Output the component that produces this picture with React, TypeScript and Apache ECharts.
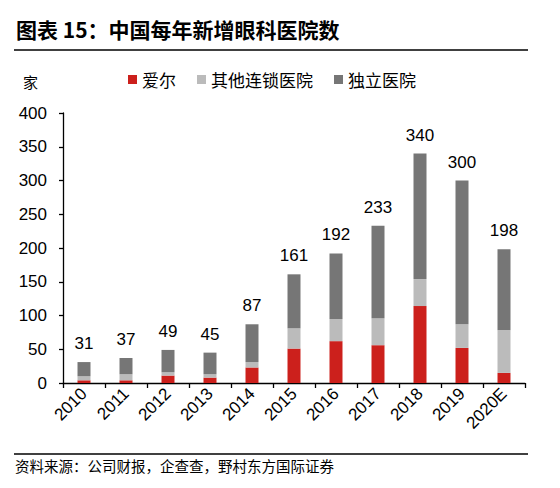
import React, { useEffect, useRef } from "react";
import * as echarts from "echarts";

const categories = ["2010", "2011", "2012", "2013", "2014", "2015", "2016", "2017", "2018", "2019", "2020E"];
const aier = [4, 4, 11, 8, 23, 51, 62, 56, 114, 52, 15];
const otherChain = [6, 9, 5, 5, 8, 30, 33, 40, 40, 35, 63];
const independent = [21, 24, 33, 32, 56, 80, 97, 137, 186, 213, 120];
const totals = [31, 37, 49, 45, 87, 161, 192, 233, 340, 300, 198];
const seriesNames = ["爱尔", "其他连锁医院", "独立医院"];

const LATIN = "'Liberation Sans', Arial, sans-serif";
const CJK = "'Noto Sans CJK SC', sans-serif";

export default function App() {
  const ref = useRef<HTMLDivElement>(null);
  useEffect(() => {
    if (!ref.current) return;
    const chart = echarts.init(ref.current, null, { renderer: "svg" });
    const option: any = {
      animation: false,
      backgroundColor: "#ffffff",
      grid: { left: 63, right: 35, top: 113, bottom: 105, containLabel: false },
      legend: {
        left: 128,
        top: 71,
        padding: 0,
        itemWidth: 9,
        itemHeight: 9,
        itemGap: 21,
        icon: "rect",
        data: seriesNames,
        textStyle: { fontSize: 17, color: "#000", fontFamily: CJK },
      },
      xAxis: {
        type: "category",
        data: categories,
        axisLine: { lineStyle: { color: "#000", width: 1.3 } },
        axisTick: { show: true, length: 5, lineStyle: { color: "#000", width: 1.3 } },
        axisLabel: { rotate: 45, fontSize: 17, color: "#000", fontFamily: LATIN, margin: 8, interval: 0 },
      },
      yAxis: {
        type: "value",
        min: 0,
        max: 400,
        interval: 50,
        splitLine: { show: false },
        axisLine: { show: true, lineStyle: { color: "#000", width: 1.3 } },
        axisTick: { show: true, length: 4, lineStyle: { color: "#000", width: 1.3 } },
        axisLabel: { fontSize: 17, color: "#000", fontFamily: LATIN, margin: 16 },
      },
      graphic: [
        {
          type: "text",
          left: 16,
          top: 18,
          style: {
            text: "图表 15：中国每年新增眼科医院数",
            fontSize: 21,
            fontWeight: "bold",
            fill: "#000",
            fontFamily: CJK,
          },
        },
        {
          type: "line",
          shape: { x1: 14, y1: 50, x2: 528, y2: 50 },
          style: { stroke: "#000", lineWidth: 1.5 },
        },
        {
          type: "text",
          left: 23,
          top: 74,
          style: { text: "家", fontSize: 15, fill: "#000", fontFamily: CJK },
        },
        {
          type: "line",
          shape: { x1: 14, y1: 454, x2: 528, y2: 454 },
          style: { stroke: "#000", lineWidth: 1.5 },
        },
        {
          type: "text",
          left: 15,
          top: 458,
          style: {
            text: "资料来源：公司财报，企查查，野村东方国际证券",
            fontSize: 14.5,
            fill: "#000",
            fontFamily: CJK,
          },
        },
      ],
      series: [
        {
          name: seriesNames[0],
          type: "bar",
          stack: "total",
          barWidth: 13,
          data: aier,
          itemStyle: { color: "#CC201C" },
        },
        {
          name: seriesNames[1],
          type: "bar",
          stack: "total",
          barWidth: 13,
          data: otherChain,
          itemStyle: { color: "#BBBBBB" },
        },
        {
          name: seriesNames[2],
          type: "bar",
          stack: "total",
          barWidth: 13,
          data: independent,
          itemStyle: { color: "#767676" },
          label: {
            show: true,
            position: "top",
            distance: 10,
            fontSize: 17,
            color: "#000",
            fontFamily: LATIN,
            formatter: (p: any) => String(totals[p.dataIndex]),
          },
        },
      ],
    };
    chart.setOption(option);
    return () => chart.dispose();
  }, []);
  return <div ref={ref} style={{ position: "absolute", left: 0, top: 0, width: 560, height: 488 }} />;
}
